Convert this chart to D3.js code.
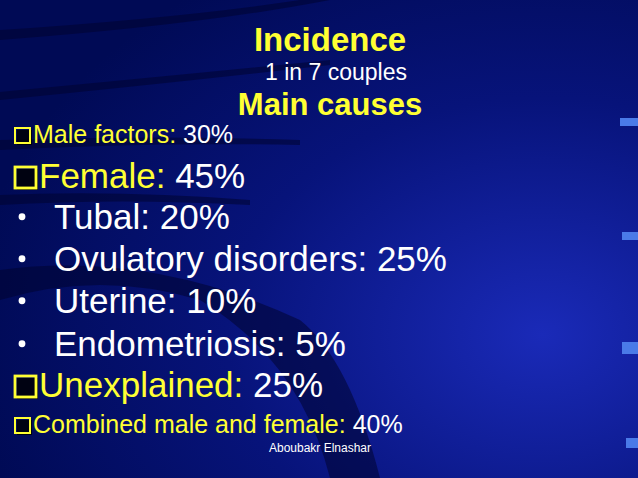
<!DOCTYPE html>
<html><head><meta charset="utf-8">
<script src="https://cdn.jsdelivr.net/npm/d3@7"></script>
<style>body{margin:0;background:#000c60}svg{display:block}</style>
</head><body>
<script>
var titles = ["Incidence", "Main causes"];
var subtitle = "1 in 7 couples";
var items = [
  {label: "Male factors: ", value: "30%", kind: "box", size: 25},
  {label: "Female: ", value: "45%", kind: "box", size: 35},
  {label: "Tubal: 20%", value: "", kind: "dot", size: 35},
  {label: "Ovulatory disorders: 25%", value: "", kind: "dot", size: 35},
  {label: "Uterine: 10%", value: "", kind: "dot", size: 35},
  {label: "Endometriosis: 5%", value: "", kind: "dot", size: 35},
  {label: "Unexplained: ", value: "25%", kind: "box", size: 35},
  {label: "Combined male and female: ", value: "40%", kind: "box", size: 25}
];
var baselines = [143, 188, 229, 271, 313, 356, 397, 433];
var author = "Aboubakr Elnashar";

var W = 638, H = 478;
var svg = d3.select("body").append("svg").attr("width", W).attr("height", H);
var defs = svg.append("defs");
var bg = defs.append("radialGradient").attr("id", "bg").attr("cx", "85%").attr("cy", "70%").attr("r", "90%");
bg.append("stop").attr("offset", "0%").attr("stop-color", "#1a2ab8");
bg.append("stop").attr("offset", "55%").attr("stop-color", "#07137a");
bg.append("stop").attr("offset", "100%").attr("stop-color", "#000a55");
svg.append("rect").attr("width", W).attr("height", H).attr("fill", "url(#bg)");

// dark swooshes on the left
var swooshes = [
  "M0,40 Q200,25 330,0 L300,0 Q180,18 0,30 Z",
  "M0,92 Q180,75 330,60 L330,65 Q180,82 0,100 Z",
  "M0,140 Q150,135 300,140 L300,145 Q150,142 0,150 Z",
  "M0,195 Q120,190 250,200 L250,205 Q120,198 0,205 Z",
  "M0,270 Q150,250 300,320 Q350,360 380,478 L330,478 Q300,360 200,300 Q100,270 0,300 Z"
];
svg.selectAll("path.sw").data(swooshes).enter().append("path")
  .attr("d", function(d){ return d; }).attr("fill", "#000430").attr("opacity", 0.55);

// blue dashes on right edge
var dashes = [[620,118,18,8],[622,232,16,8],[622,342,16,12],[626,438,12,10]];
svg.selectAll("rect.dash").data(dashes).enter().append("rect")
  .attr("x", function(d){return d[0];}).attr("y", function(d){return d[1];})
  .attr("width", function(d){return d[2];}).attr("height", function(d){return d[3];})
  .attr("fill", "#4a7ae8");

var font = "'Liberation Sans', Arial, sans-serif";
svg.append("text").attr("x", 330).attr("y", 51).attr("text-anchor", "middle")
  .attr("font-family", font).attr("font-weight", "bold").attr("font-size", 33)
  .attr("fill", "#ffff33").text(titles[0]);
svg.append("text").attr("x", 265).attr("y", 80)
  .attr("font-family", font).attr("font-size", 23).attr("fill", "#fff").text(subtitle);
svg.append("text").attr("x", 330).attr("y", 115).attr("text-anchor", "middle")
  .attr("font-family", font).attr("font-weight", "bold").attr("font-size", 31)
  .attr("fill", "#ffff33").text(titles[1]);

items.forEach(function(it, i) {
  var y = baselines[i], s = it.size;
  var g = svg.append("g");
  var tx;
  if (it.kind === "box") {
    var b = s * 0.6;
    g.append("rect").attr("x", 17).attr("y", y - b + 2).attr("width", b).attr("height", b)
      .attr("fill", "#000").attr("opacity", 0.8);
    g.append("rect").attr("x", 15).attr("y", y - b).attr("width", b).attr("height", b)
      .attr("fill", "none").attr("stroke", "#ffff33").attr("stroke-width", s > 30 ? 2.8 : 2);
    tx = 15 + b + 3;
  } else {
    g.append("circle").attr("cx", 22).attr("cy", y - s * 0.35).attr("r", 3.4).attr("fill", "#fff");
    tx = 54;
  }
  var t = g.append("text").attr("x", tx).attr("y", y).attr("font-family", font).attr("font-size", s);
  t.append("tspan").attr("fill", it.kind === "box" ? "#ffff33" : "#fff").text(it.label);
  if (it.value) t.append("tspan").attr("fill", "#fff").text(it.value);
});

svg.append("text").attr("x", 320).attr("y", 452).attr("text-anchor", "middle")
  .attr("font-family", font).attr("font-size", 12).attr("fill", "#fff").text(author);
</script>
</body></html>
